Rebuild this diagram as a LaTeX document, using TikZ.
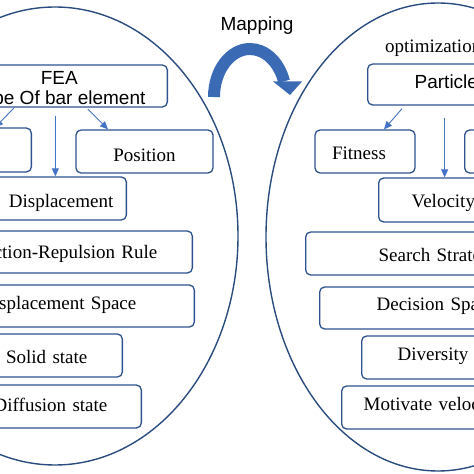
\documentclass[tikz,border=0pt]{standalone}
\usepackage{fontspec}
\setmainfont{Liberation Serif}
\newfontfamily\sansf{Liberation Sans}
\usetikzlibrary{arrows.meta,calc}
\definecolor{ellc}{HTML}{2B4C7E}
\definecolor{boxc}{HTML}{2F528F}
\definecolor{arrc}{HTML}{4472C4}
\definecolor{mapc}{HTML}{3A6AB4}
\newcommand\dn[2]{\raisebox{\dimexpr-6.3pt-#1pt\relax}[8pt][8pt]{#2}}
\begin{document}
\begin{tikzpicture}[x=1pt,y=1pt,
  every node/.style={font=\fontsize{19}{20}\selectfont},
  sfont/.style={font=\sansf\fontsize{19}{20}\selectfont},
  bx/.style={draw=boxc, line width=1.3pt, rounded corners=5pt, fill=white, inner ysep=0pt},
  lbox/.style={bx, anchor=east, text width=300pt, align=right},
  rbox/.style={bx, anchor=west, text width=250pt, align=left},
  arr/.style={draw=arrc, line width=0.9pt, -{Triangle[length=8pt,width=7pt]}},
  ell/.style={draw=ellc, line width=1.4pt}]
\useasboundingbox (0,0) rectangle (474,474);
\clip (0,0) rectangle (474,474);
\draw[ell] (55,238) ellipse[x radius=183, y radius=229];
\draw[ell] (438,237) ellipse[x radius=172, y radius=234];
% left side
\node[bx, sfont, anchor=east, inner xsep=0pt, minimum width=216pt, minimum height=42pt] (fea) at (168,388)
  {\raisebox{-8.5pt}[20pt][20pt]{\begin{tabular}{@{}c@{}}FEA\\Type Of bar element\end{tabular}}};
\node[lbox, inner xsep=5pt, minimum height=44pt] (b2) at (32,324) {};
\node[bx, minimum width=137pt, minimum height=43pt] (pos) at (144.5,322.5) {\dn{4}{Position}};
\node[lbox, inner xsep=13pt, minimum height=43pt] (disp) at (127,275.5) {\dn{3}{Displacement}};
\node[lbox, inner xsep=35pt, minimum height=42pt] (ar) at (193,222) {\dn{0}{Attraction-Repulsion Rule}};
\node[lbox, inner xsep=58pt, minimum height=42pt] (ds) at (195,168) {\dn{-2.5}{Displacement Space}};
\node[lbox, inner xsep=35pt, minimum height=43pt] (ss) at (123,118.5) {\dn{1.5}{Solid state}};
\node[lbox, inner xsep=34pt, minimum height=43pt] (dif) at (142,67.5) {\dn{-1.5}{Diffusion state}};
% right side
\node[anchor=base west, inner sep=0pt] (opt) at (385,421) {optimization};
\node[rbox, sfont, inner xsep=47pt, minimum height=41pt] (part) at (367,389.5) {\dn{-2}{Particle}};
\node[bx, minimum width=100pt, minimum height=43pt] (fit) at (365,322.5) {\dn{1.5}{Fitness\hspace*{12pt}}};
\node[rbox, inner xsep=5pt, minimum height=43pt] (b3) at (464,322.5) {};
\node[rbox, inner xsep=33pt, minimum height=44pt] (vel) at (378,274) {\dn{1.5}{Velocity}};
\node[rbox, inner xsep=73pt, minimum height=43pt] (srch) at (305,220.5) {\dn{1.5}{Search Strategy}};
\node[rbox, inner xsep=57pt, minimum height=42pt] (dec) at (319,166) {\dn{-3.5}{Decision Space}};
\node[rbox, inner xsep=36pt, minimum height=43pt] (div) at (361,116.5) {\dn{-3.5}{Diversity}};
\node[rbox, inner xsep=22pt, minimum height=43pt] (mot) at (341,66.5) {\dn{-3.5}{Motivate velocity}};
% arrows
\coordinate (m1) at ([xshift=-4pt]fea.south);
\coordinate (m2) at ([xshift=-95pt]part.south);
\draw[arr, shorten <=1pt] ([xshift=-45pt]fea.south) -- ([xshift=-37pt]b2.north east);
\draw[arr, shorten <=8pt] (m1) -- (m1 |- disp.north);
\draw[arr, shorten <=2pt] ([xshift=27pt]fea.south) -- ([xshift=-36.5pt]pos.north);
\draw[arr, shorten <=4pt] ([xshift=-135pt]part.south) -- ([xshift=19pt]fit.north);
\draw[arr, shorten <=12pt] (m2) -- (m2 |- vel.north);
% mapping
\node[sfont, anchor=base, inner sep=0pt] (map) at (257,443) {Mapping};
\draw[mapc, line width=12pt] (214,377) arc[start angle=180, end angle=19, x radius=36, y radius=48];
\fill[mapc] (273,392.5) -- (302,392.5) -- (290,379) -- cycle;
\end{tikzpicture}
\end{document}
